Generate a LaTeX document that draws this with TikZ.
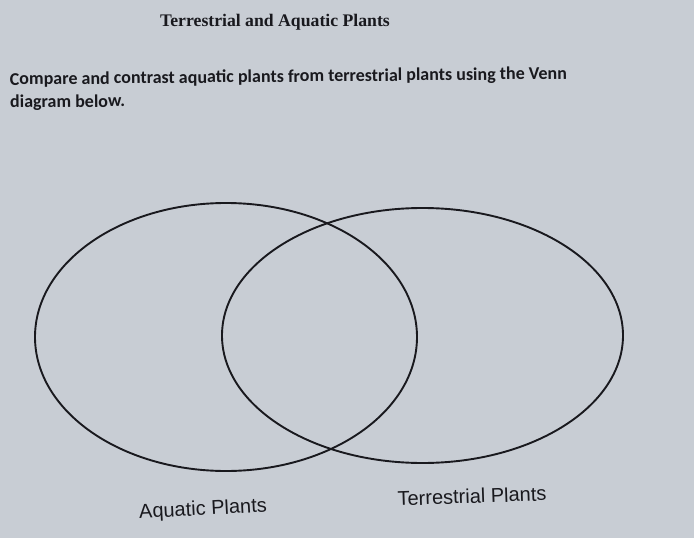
\documentclass[tikz,border=0pt]{standalone}
\usepackage{fontspec}
\usetikzlibrary{shapes.geometric}
\setmainfont{Liberation Serif}
\newfontfamily\carl{Carlito}
\newfontfamily\arial{Liberation Sans}
\definecolor{paper}{RGB}{200,205,212}
\definecolor{ink}{RGB}{25,25,30}
\begin{document}
\begin{tikzpicture}[x=1pt,y=-1pt,
  venn/.style={draw=ink,line width=1.9pt,ellipse,inner sep=0pt},
  lbl/.style={text=ink,inner sep=0pt,font=\arial\fontsize{20}{24}\selectfont}]
\fill[paper] (0,0) rectangle (694,538);
\useasboundingbox (0,0) rectangle (694,538);
\node[inner sep=0pt,text=ink,font=\bfseries\fontsize{17.7}{20}\selectfont] (title) at (275,22) {Terrestrial and Aquatic Plants};
\node[inner sep=0pt,anchor=base west,align=left,text=ink,rotate=0.6,font=\carl\bfseries\fontsize{18}{23}\selectfont] (instr) at (10,108)
  {Compare and contrast aquatic plants from terrestrial plants using the Venn\\diagram below.};
\node[venn,minimum width=382pt,minimum height=268pt] (aq) at (226,337) {};
\node[venn,minimum width=401pt,minimum height=255pt] (te) at (422.5,335.5) {};
\node[lbl,rotate=3] (la) at (203,510) {Aquatic Plants};
\node[lbl,rotate=2] (lt) at (472,496) {Terrestrial Plants};
\end{tikzpicture}
\end{document}
